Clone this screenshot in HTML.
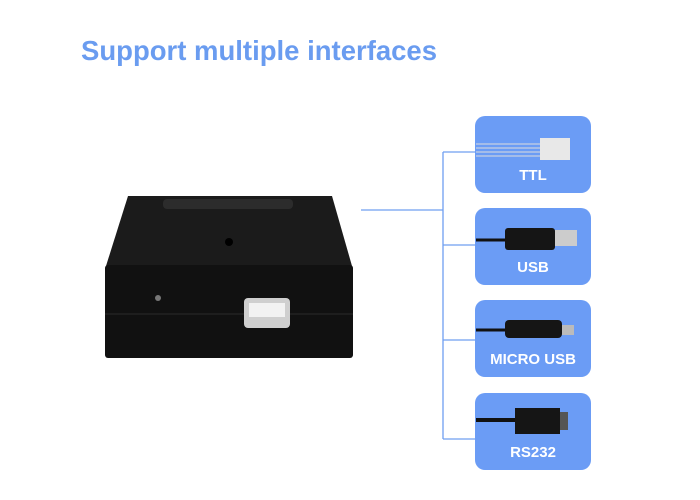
<!DOCTYPE html>
<html><head><style>
body{margin:0;width:700px;height:500px;background:#fff;position:relative;overflow:hidden;font-family:"Liberation Sans",sans-serif}
.t{position:absolute;left:81px;top:35px;font-size:27.5px;font-weight:bold;color:#6a9cf0}
.b{position:absolute;left:475px;width:116px;height:77px;background:#6b9cf5;border-radius:10px}
.b span{position:absolute;left:0;right:0;bottom:9px;text-align:center;color:#fff;font-weight:bold;font-size:15px}
</style></head><body>
<div class="t">Support multiple interfaces</div>
<svg width="700" height="500" style="position:absolute;left:0;top:0">
<g stroke="#6f9ff0" stroke-width="1.3" fill="none">
<path d="M361 210H443M443 152V439M443 152H476M443 245H476M443 340H476M443 439H476"/>
</g>
<polygon points="128,196 332,196 352,266 106,266" fill="#1b1b1b"/>
<rect x="163" y="199" width="130" height="10" rx="4" fill="#2c2c2c"/>
<rect x="105" y="265" width="248" height="93" rx="3" fill="#111"/>
<line x1="105" y1="314" x2="353" y2="314" stroke="#2a2a2a"/>
<circle cx="229" cy="242" r="4" fill="#000"/>
<circle cx="158" cy="298" r="3" fill="#777"/>
<rect x="244" y="298" width="46" height="30" rx="4" fill="#cfcfcf"/>
<rect x="249" y="303" width="36" height="14" fill="#f2f2f2"/>
</svg>
<div class="b" style="top:116px"><span>TTL</span></div>
<div class="b" style="top:208px"><span>USB</span></div>
<div class="b" style="top:300px"><span>MICRO USB</span></div>
<div class="b" style="top:393px"><span>RS232</span></div>
<svg width="700" height="500" style="position:absolute;left:0;top:0">
<g stroke="#ddd" stroke-width="1"><path d="M476 144H540M476 148H540M476 152H540M476 156H540"/></g>
<rect x="540" y="138" width="30" height="22" fill="#e8e8e8"/>
<path d="M476 240H505" stroke="#111" stroke-width="3"/><rect x="505" y="228" width="50" height="22" rx="3" fill="#151515"/><rect x="555" y="230" width="22" height="16" fill="#ccc"/>
<path d="M476 330H505" stroke="#111" stroke-width="3"/><rect x="505" y="320" width="57" height="18" rx="4" fill="#151515"/><rect x="562" y="325" width="12" height="10" fill="#bbb"/>
<path d="M476 420H515" stroke="#111" stroke-width="4"/><rect x="515" y="408" width="45" height="26" fill="#151515"/><rect x="560" y="412" width="8" height="18" fill="#555"/>
</svg>
</body></html>
